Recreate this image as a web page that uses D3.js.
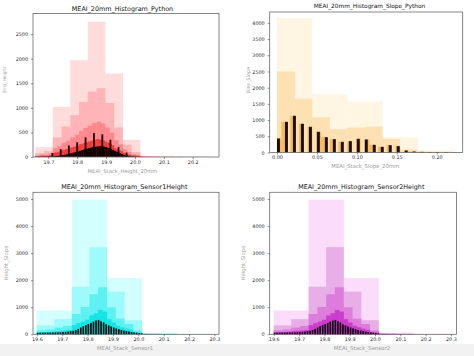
<!DOCTYPE html>
<html><head><meta charset="utf-8">
<script src="https://cdn.jsdelivr.net/npm/d3@7"></script>
<style>body{margin:0;background:#fff;} svg{display:block;}</style>
</head><body>
<svg id="c" width="474" height="356"></svg>
<script>
// ---------- Top-left: MEAI_20mm_Histogram_Python ----------
const tlRange = [19.655, 20.26];
const tlBins10 = [200, 1020, 1970, 2750, 1700, 350, 15, 6, 3, 2];
const tlBins20 = [80,120,400,620,850,1120,1330,1400,1100,600,250,100,10,5,3,3,2,1,1,1];
const tlBins40 = [30,50,50,70,180,220,290,330,400,450,530,590,640,690,720,680,600,500,340,260,
                  150,100,60,40,6,4,3,2,2,1,2,1,1,1,1,0,1,0,1,0];
const tlBins80 = [12,18,22,28,24,26,32,38, 85,95,105,115,140,150,160,170,
                  195,205,220,230,260,270,290,300, 315,325,340,350,365,355,345,335,
                  310,290,260,240,180,160,140,120, 85,65,55,45,32,28,22,18,
                  4,2,2,2,2,1,1,1, 1,1,1,0,1,1,1,0, 0,1,1,0,1,0,0,0, 0,1,0,0,1,0,0,0];
const tlBinsFine = [2,3,4,5,6,8,10,12, 15,20,25,30,38,45,55,65,
                    75,88,100,112,125,140,155,168, 180,192,200,210,215,220,218,212,
                    200,185,165,145,120,100,80,62, 45,32,22,15,10,6,4,2,
                    2,1,1,1,0,1,0,0, 1,0,0,1,0,0,1,0, 0,1,0,0,0,1,0,0, 0,0,1,0,0,0,0,1];
const tlSpikeX = [19.714, 19.743, 19.771, 19.800, 19.829, 19.858, 19.887, 19.915, 19.943, 19.971];
const tlSpikeY = [80, 160, 235, 300, 400, 485, 462, 350, 200, 90];
const tlXTicks = [19.7, 19.8, 19.9, 20.0, 20.1, 20.2];
const tlYTicks = [0, 500, 1000, 1500, 2000, 2500];

// ---------- Top-right: MEAI_20mm_Histogram_Slope_Python ----------
const trRange = [0.0, 0.22];
const trBins5 = [4150, 1800, 1570, 470, 60];
const trBins10 = [2500, 1660, 1090, 720, 770, 800, 420, 90, 35, 30];
const trBins40 = [432,946,0,1132,0,885,0,792,0,638, 473,0,412,0,329,0,350,0,422,0,
                  401,237,0,175,0,226,0,195,0,62, 31,0,20,0,15,0,12,0,12,8];
const trValues = [0.00,0.01,0.02,0.03,0.04,0.05,0.06,0.07,0.08,0.09,0.10,0.11,
                  0.12,0.13,0.14,0.15,0.16,0.17,0.18,0.19,0.20,0.21,0.22];
const trCounts = [432,946,1132,885,792,638,473,412,329,350,422,401,
                  237,175,226,195,62,31,20,15,12,12,8];
const trXTicks = [0.00, 0.05, 0.10, 0.15, 0.20];
const trYTicks = [0, 500, 1000, 1500, 2000, 2500, 3000, 3500, 4000];

// ---------- Bottom: Sensor1Height / Sensor2Height ----------
const sRange = [19.6, 20.29];
const sBins5 = [880, 4980, 2080, 60, 10];
const sBins10 = [330, 560, 1760, 3220, 1580, 520, 40, 20, 5, 5];
const sBins20 = [150,180,250,310,750,1010,1480,1740,1000,580,380,140,25,15,12,8,3,2,3,2];
const sBins40 = [70,80,85,95,120,130,145,165,340,410,470,540,700,780,900,840,560,440,320,260,
                 210,170,80,60,14,11,8,7,6,6,4,4,2,1,1,1,2,1,1,1];
const sValues = [19.60,19.61,19.62,19.63,19.64,19.65,19.66,19.67,19.68,19.69,
                 19.70,19.71,19.72,19.73,19.74,19.75,19.76,19.77,19.78,19.79,
                 19.80,19.81,19.82,19.83,19.84,19.85,19.86,19.87,19.88,19.89,
                 19.90,19.91,19.92,19.93,19.94,19.95,19.96,19.97,19.98,19.99,
                 20.00,20.01,20.02,20.03,20.04,20.05,20.06,20.07,20.08,20.09,
                 20.10,20.11,20.12,20.13,20.14,20.15,20.16,20.17,20.18,20.19,
                 20.20,20.21,20.22,20.23,20.24,20.25,20.26,20.27,20.28,20.29];
const sCounts = [55,60,60,62,65,65,68, 70,72,75,80,90,100,115,
                 130,160,200,250,300,340,380, 420,470,510,530,480,440,370,
                 330,290,250,220,190,160,140, 120,100,85,70,60,50,35,
                 10,8,6,5,4,4,3, 5,4,3,3,2,2,1, 1,1,1,1,0,1,0, 1,0,1,1,0,1,1];
const sXTicks = [19.6, 19.7, 19.8, 19.9, 20.0, 20.1, 20.2, 20.3];
const sYTicks = [0, 1000, 2000, 3000, 4000, 5000];

const svg = d3.select('#c');
const FONT = 'DejaVu Sans';
svg.append('rect').attr('x',0).attr('y',0).attr('width',474).attr('height',356).attr('fill','#fff');
svg.append('rect').attr('x',0).attr('y',344).attr('width',474).attr('height',12).attr('fill','#f2f2f2');

// pick a font size so that the text reaches the target width
function fitText(sel, target){
  const w = sel.node().getComputedTextLength();
  const fs = parseFloat(sel.attr('font-size'));
  if (w > 0) sel.attr('font-size', fs * target / w);
}
const probe = svg.append('text').attr('font-family',FONT).attr('font-size',10).text('2500');
const TICK_FS = 10 * 12.4 / probe.node().getComputedTextLength();
probe.remove();

function panel(c){
  const g = svg.append('g');
  const x = d3.scaleLinear().domain(c.xDomain).range([c.left, c.right]);
  const y = d3.scaleLinear().domain(c.yDomain).range([c.bottom, c.top]);
  c.layers.forEach(L => {
    const n = L.counts.length, w = (L.range[1]-L.range[0])/n;
    g.append('g').selectAll('rect').data(L.counts).join('rect')
      .attr('x', (d,i)=> x(L.range[0]+i*w))
      .attr('width', (d,i)=> x(L.range[0]+(i+1)*w) - x(L.range[0]+i*w) + 0.25)
      .attr('y', d=> y(d)).attr('height', d=> y(0)-y(d))
      .attr('fill', L.color);
  });
  c.bars.forEach(B => {
    g.append('g').selectAll('rect').data(B.xs).join('rect')
      .attr('x', d=> x(d + B.offset))
      .attr('width', x(c.xDomain[0]+B.width) - x(c.xDomain[0]))
      .attr('y', (d,i)=> y(B.ys[i])).attr('height', (d,i)=> y(0)-y(B.ys[i]))
      .attr('fill', B.color);
  });
  g.append('rect').attr('x',c.left).attr('y',c.top).attr('width',c.right-c.left)
    .attr('height',c.bottom-c.top).attr('fill','none').attr('stroke','#6a6a6a').attr('stroke-width',0.8);
  const xa = g.append('g').attr('transform',`translate(0,${c.bottom})`)
    .call(d3.axisBottom(x).tickValues(c.xTicks).tickFormat(d3.format(c.xFmt)).tickSize(2).tickPadding(1.2));
  const ya = g.append('g').attr('transform',`translate(${c.left},0)`)
    .call(d3.axisLeft(y).tickValues(c.yTicks).tickFormat(d3.format('d')).tickSize(2).tickPadding(3));
  [xa, ya].forEach(a => {
    a.select('.domain').remove();
    a.selectAll('line').attr('stroke','#444').attr('stroke-width',0.6);
    a.selectAll('text').attr('font-family',FONT).attr('font-size',TICK_FS).attr('fill','#2a2a2a');
  });
  const t = g.append('text').attr('x',c.titleX).attr('y',c.titleY).attr('text-anchor','middle')
    .attr('dominant-baseline','central').attr('font-family',FONT).attr('font-size',7)
    .attr('fill','#111').text(c.title);
  fitText(t, c.titleW);
  const xl = g.append('text').attr('x',c.xlabelX).attr('y',c.xlabelY).attr('text-anchor','middle')
    .attr('dominant-baseline','central').attr('font-family',FONT).attr('font-size',5.5)
    .attr('fill','#9c9c9c').text(c.xlabel);
  fitText(xl, c.xlabelW);
  const yl = g.append('text').attr('transform',`translate(${c.ylabelX},${c.ylabelY}) rotate(-90)`)
    .attr('text-anchor','middle').attr('dominant-baseline','central')
    .attr('font-family',FONT).attr('font-size',5.5).attr('fill','#a4a4a4').text(c.ylabel);
  fitText(yl, c.ylabelW);
}

panel({
  left:33, right:219, top:13.5, bottom:157,
  xDomain:[19.647, 20.291], yDomain:[0, 2920],
  xTicks: tlXTicks, yTicks: tlYTicks, xFmt: '.1f',
  layers:[
    {counts: tlBins10, range: tlRange, color:'#ffdcdc'},
    {counts: tlBins20, range: tlRange, color:'#ffb4b8'},
    {counts: tlBins40, range: tlRange, color:'#ff888c'},
    {counts: tlBins80, range: tlRange, color:'#f53a3a'},
    {counts: tlBinsFine, range: tlRange, color:'#120000'}
  ],
  bars:[{xs: tlSpikeX, ys: tlSpikeY, width: 0.0062, offset: -0.0031, color:'#120000'}],
  title:'MEAI_20mm_Histogram_Python', titleX:122.5, titleY:9, titleW:101.5,
  xlabel:'MEAI_Stack_Height_20mm', xlabelX:122.5, xlabelY:170.7, xlabelW:70,
  ylabel:'Bins_Height', ylabelX:4.5, ylabelY:80, ylabelW:26.5
});

panel({
  left:269.7, right:462.7, top:12, bottom:152.5,
  xDomain:[-0.0091, 0.2326], yDomain:[0, 4335],
  xTicks: trXTicks, yTicks: trYTicks, xFmt: '.2f',
  layers:[
    {counts: trBins5, range: trRange, color:'#fff5e3'},
    {counts: trBins10, range: trRange, color:'#fde1b3'},
    {counts: trBins40, range: trRange, color:'#f8bb5e'}
  ],
  bars:[{xs: trValues, ys: trCounts, width: 0.0037, offset: 0, color:'#1c0c02'}],
  title:'MEAI_20mm_Histogram_Slope_Python', titleX:369.5, titleY:6, titleW:111.5,
  xlabel:'MEAI_Stack_Slope_20mm', xlabelX:365.3, xlabelY:165.7, xlabelW:68,
  ylabel:'Bins_Slope', ylabelX:247.7, ylabelY:80, ylabelW:26.5
});

panel({
  left:33, right:219, top:192.3, bottom:334.3,
  xDomain:[19.585, 20.318], yDomain:[0, 5250],
  xTicks: sXTicks, yTicks: sYTicks, xFmt: '.1f',
  layers:[
    {counts: sBins5, range: sRange, color:'#d4ffff'},
    {counts: sBins10, range: sRange, color:'#9ffbfb'},
    {counts: sBins20, range: sRange, color:'#5ef1f1'},
    {counts: sBins40, range: sRange, color:'#14e4e4'}
  ],
  bars:[{xs: sValues, ys: sCounts, width: 0.0066, offset: 0, color:'#020d0d'}],
  title:'MEAI_20mm_Histogram_Sensor1Height', titleX:124.3, titleY:187.3, titleW:126.5,
  xlabel:'MEAI_Stack_Sensor1', xlabelX:125, xlabelY:348, xlabelW:56.5,
  ylabel:'Height_Slope', ylabelX:5.7, ylabelY:263, ylabelW:35
});

panel({
  left:269.7, right:456.5, top:192.3, bottom:334.3,
  xDomain:[19.584, 20.322], yDomain:[0, 5250],
  xTicks: sXTicks, yTicks: sYTicks, xFmt: '.1f',
  layers:[
    {counts: sBins5, range: sRange, color:'#fbdcfb'},
    {counts: sBins10, range: sRange, color:'#e8aee8'},
    {counts: sBins20, range: sRange, color:'#dc7ddc'},
    {counts: sBins40, range: sRange, color:'#cc3ccc'}
  ],
  bars:[{xs: sValues, ys: sCounts, width: 0.0066, offset: 0, color:'#0d020d'}],
  title:'MEAI_20mm_Histogram_Sensor2Height', titleX:361.3, titleY:187.3, titleW:126.5,
  xlabel:'MEAI_Stack_Sensor2', xlabelX:362, xlabelY:348, xlabelW:56.5,
  ylabel:'Height_Slope', ylabelX:242.7, ylabelY:263, ylabelW:35
});
</script>
</body></html>
